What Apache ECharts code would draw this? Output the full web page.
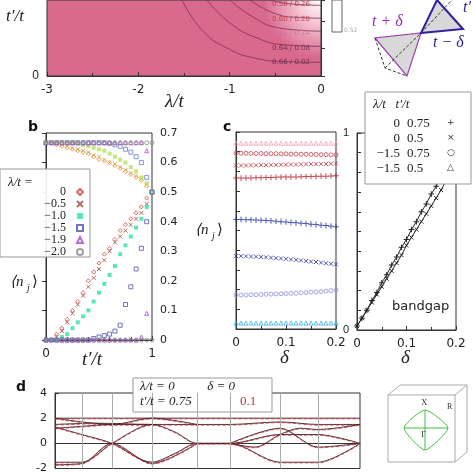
<!DOCTYPE html>
<html><head><meta charset="utf-8">
<script src="https://cdn.jsdelivr.net/npm/echarts@6/dist/echarts.min.js"></script>
<style>html,body{margin:0;padding:0;background:#fff}#c{width:474px;height:474px}</style>
</head><body><div id="c"></div>
<script>
// panel a contours [lambda, t'] (t' scaled 0..1 over plot height)
var contourLabels = ['0.58 / 0.26', '0.60 / 0.20', '0.62 / 0.14', '0.64 / 0.08', '0.66 / 0.02'];
var contours = [
  [[-0.56, 1], [-0.35, 0.95], [0, 0.93]],
  [[-0.78, 1], [-0.5, 0.82], [-0.25, 0.77], [0, 0.76]],
  [[-1.0, 1], [-0.75, 0.78], [-0.45, 0.63], [0, 0.59]],
  [[-1.25, 1], [-1.0, 0.7], [-0.7, 0.5], [-0.4, 0.41], [0, 0.39]],
  [[-1.52, 1], [-1.3, 0.6], [-1.0, 0.35], [-0.7, 0.23], [-0.4, 0.19], [0, 0.18]]
];

// panel b: t'/t = 0, 0.05, ..., 1
var tp = [0,0.05,0.1,0.15,0.2,0.25,0.3,0.35,0.4,0.45,0.5,0.55,0.6,0.65,0.7,0.75,0.8,0.85,0.9,0.95,1];
var lambdas = ['0', '−0.5', '−1.0', '−1.5', '−1.9', '−2.0'];
var nLow = [
  [0,0,0.02,0.04,0.07,0.1,0.13,0.16,0.2,0.23,0.26,0.29,0.31,0.34,0.37,0.39,0.41,0.43,0.45,0.48,0.5],
  [0,0,0.01,0.03,0.06,0.09,0.12,0.15,0.18,0.21,0.24,0.27,0.3,0.33,0.35,0.37,0.39,0.41,0.43,0.46,0.5],
  [0,0,0,0.01,0.02,0.04,0.06,0.08,0.1,0.13,0.16,0.19,0.22,0.25,0.29,0.32,0.35,0.38,0.41,0.45,0.5],
  [0,0,0,0,0,0,0,0,0,0.005,0.01,0.015,0.02,0.03,0.05,0.12,0.18,0.24,0.31,0.4,0.5],
  [0,0,0,0,0,0,0,0,0,0,0,0,0,0,0,0,0,0,0.01,0.09],
  [0,0,0,0,0,0,0,0,0,0,0,0,0,0,0,0,0,0,0,0,0]
];
var nUp = [
  [0.667,0.667,0.66,0.655,0.65,0.645,0.64,0.635,0.63,0.62,0.61,0.605,0.6,0.59,0.58,0.57,0.56,0.55,0.54,0.52,0.5],
  [0.667,0.667,0.665,0.66,0.655,0.65,0.645,0.64,0.635,0.625,0.62,0.61,0.6,0.595,0.585,0.575,0.565,0.555,0.545,0.525,0.5],
  [0.667,0.667,0.667,0.667,0.667,0.667,0.665,0.66,0.655,0.65,0.645,0.64,0.63,0.62,0.61,0.6,0.585,0.57,0.55,0.53,0.5],
  [0.667,0.667,0.667,0.667,0.667,0.667,0.667,0.667,0.667,0.667,0.667,0.667,0.665,0.66,0.655,0.645,0.635,0.62,0.6,0.55,0.5],
  [0.667,0.667,0.667,0.667,0.667,0.667,0.667,0.667,0.667,0.667,0.667,0.667,0.667,0.667,0.667,0.667,0.667,0.667,0.667,0.64],
  [0.667,0.667,0.667,0.667,0.667,0.667,0.667,0.667,0.667,0.667,0.667,0.667,0.667,0.667,0.667,0.667,0.667,0.667,0.667,0.667,0.667]
];
var cross = 'path://M0,0L10,10M10,0L0,10';
var bSymbols = ['diamond', cross, 'rect', 'rect', 'triangle', 'circle'];
var bLowColors = ['#d0453a', '#a04838', '#2fe0a8', '#5050b8', '#a848c8', '#8a8a8a'];
var bUpColors = ['#e8872a', '#e09a40', '#b8e060', '#6a80d0', '#a848c8', '#8a8a8a'];

// panel c: delta = 0 .. 0.2
var delta = [0,0.01,0.02,0.03,0.04,0.05,0.06,0.07,0.08,0.09,0.1,0.11,0.12,0.13,0.14,0.15,0.16,0.17,0.18,0.19,0.2];
var cLeft = [
  {sym: 'triangle', color: '#f0a0b0', v: [0.943,0.943,0.943,0.943,0.943,0.943,0.943,0.943,0.943,0.943,0.943,0.943,0.943,0.943,0.943,0.943,0.943,0.943,0.943,0.943,0.943]},
  {sym: 'circle', color: '#d04050', v: [0.892,0.892,0.892,0.891,0.891,0.891,0.890,0.890,0.890,0.889,0.889,0.888,0.888,0.887,0.887,0.886,0.886,0.885,0.885,0.884,0.884]},
  {sym: 'x', color: '#c03040', v: [0.83,0.83,0.83,0.831,0.831,0.832,0.832,0.833,0.833,0.834,0.834,0.835,0.835,0.836,0.836,0.837,0.837,0.838,0.838,0.839,0.84]},
  {sym: 'plus', color: '#b02030', v: [0.766,0.766,0.767,0.767,0.768,0.768,0.769,0.769,0.770,0.771,0.771,0.772,0.772,0.773,0.774,0.774,0.775,0.776,0.776,0.777,0.778]},
  {sym: 'plus', color: '#2030a0', v: [0.556,0.556,0.555,0.554,0.553,0.552,0.551,0.549,0.547,0.545,0.543,0.541,0.539,0.537,0.535,0.532,0.530,0.527,0.525,0.522,0.519]},
  {sym: 'x', color: '#3030b0', v: [0.37,0.37,0.369,0.368,0.367,0.366,0.364,0.362,0.36,0.358,0.356,0.353,0.351,0.348,0.345,0.342,0.34,0.337,0.334,0.331,0.328]},
  {sym: 'circle', color: '#9090e0', v: [0.173,0.173,0.173,0.174,0.174,0.175,0.176,0.177,0.178,0.179,0.180,0.181,0.182,0.184,0.185,0.187,0.188,0.190,0.192,0.195,0.197]},
  {sym: 'triangle', color: '#30b0e0', v: [0.03,0.03,0.03,0.03,0.03,0.03,0.03,0.03,0.03,0.03,0.03,0.03,0.03,0.03,0.03,0.03,0.03,0.03,0.03,0.03,0.03]}
];
var gapA = [0.02,0.06,0.1,0.15,0.19,0.24,0.28,0.33,0.37,0.42,0.46,0.51,0.55,0.6,0.64,0.69,0.73,0.78,0.83,0.87,0.92];
var gapB = [0.02,0.06,0.1,0.14,0.18,0.22,0.26,0.3,0.34,0.38,0.43,0.47,0.51,0.55,0.59,0.63,0.67,0.71,0.76,0.8,0.85];
var cLegend = [['0', '0.75', '+'], ['0', '0.5', '×'], ['−1.5', '0.75', '○'], ['−1.5', '0.5', '△']];

// panel d: k-path node positions and bands
var kNodes = [0, 27, 57, 97, 142, 175, 225, 263, 305];
var bands = [
  [[0,2],[97,2],[142,2],[305,2]],
  [[0,1.5],[40,1.6],[97,1.5],[142,1.5],[175,1.5],[225,1.7],[263,1.5],[305,1.5]],
  [[0,2],[27,1.7],[57,1.5],[97,2],[142,1.5]],
  [[0,1.3],[27,0.7],[57,0],[97,-1.5],[120,-0.8],[142,0],[175,0],[225,-1.5],[263,-1.5],[305,0]],
  [[0,-1.5],[27,-1.5],[57,0],[97,1.5],[120,0.9],[142,0],[175,0],[225,0.7],[263,0.7],[305,0]],
  [[0,1.2],[27,1.35],[57,1.5],[97,1.5]],
  [[175,0],[200,-0.3],[225,0.7],[245,1.2],[263,1.1],[305,1.5]],
  [[175,0],[225,1.2],[263,-0.3],[305,0]],
  [[0,-1.7],[27,-1.6],[57,0],[97,-1.6],[142,0]]
];

var series = [];
contours.forEach(function (c) {
  series.push({type: 'line', xAxisIndex: 0, yAxisIndex: 0, data: c, smooth: true, symbol: 'none',
    lineStyle: {color: '#7a3050', width: 0.8}});
});
lambdas.forEach(function (l, i) {
  var filled = i === 2;
  series.push({type: 'scatter', name: l, xAxisIndex: 1, yAxisIndex: 1, symbol: bSymbols[i], symbolSize: 4,
    itemStyle: filled ? {color: bLowColors[i]} : {color: 'transparent', borderColor: bLowColors[i], borderWidth: 1},
    data: nLow[i].map(function (v, j) { return [tp[j], v]; })});
  series.push({type: 'scatter', xAxisIndex: 1, yAxisIndex: 1, symbol: bSymbols[i], symbolSize: 4,
    itemStyle: filled ? {color: bUpColors[i]} : {color: 'transparent', borderColor: bUpColors[i], borderWidth: 1},
    data: nUp[i].map(function (v, j) { return [tp[j], v]; })});
});
cLeft.forEach(function (s) {
  series.push({type: 'scatter', xAxisIndex: 2, yAxisIndex: 2, symbol: s.sym === 'plus' || s.sym === 'x' ? cross : s.sym,
    symbolRotate: s.sym === 'plus' ? 45 : 0, symbolSize: 4,
    itemStyle: {color: 'transparent', borderColor: s.color, borderWidth: 1},
    data: s.v.map(function (v, j) { return [delta[j], v]; })});
});
[gapA, gapB].forEach(function (g, i) {
  series.push({type: 'line', name: 'gap' + i, xAxisIndex: 3, yAxisIndex: 3, symbol: cross, symbolRotate: i ? 0 : 45, symbolSize: 4,
    lineStyle: {color: '#222', width: 1}, itemStyle: {color: 'transparent', borderColor: '#222', borderWidth: 1},
    data: g.map(function (v, j) { return [delta[j], v]; })});
});
bands.forEach(function (b) {
  series.push({type: 'line', xAxisIndex: 4, yAxisIndex: 4, data: b, smooth: 0.3, symbol: 'none',
    lineStyle: {color: '#222', width: 0.9}});
  series.push({type: 'line', xAxisIndex: 4, yAxisIndex: 4, data: b.map(function (p) { return [p[0], p[1] - 0.05]; }), smooth: 0.3, symbol: 'none',
    lineStyle: {color: '#d03040', width: 0.9, type: 'dashed'}});
});

var font = 'Liberation Serif';
var tickIn = {show: true, inside: true, length: 4, lineStyle: {color: '#333'}};
var axLine = {lineStyle: {color: '#333'}};
var lab = {color: '#222', fontSize: 12, fontFamily: 'DejaVu Sans'};

var chart = echarts.init(document.getElementById('c'));
chart.setOption({
  animation: false,
  grid: [
    {left: 47, top: 0, width: 274, height: 76, show: true, borderColor: '#333',
      backgroundColor: new echarts.graphic.RadialGradient(1, 0, 0.75, [
        {offset: 0, color: '#ffffff'}, {offset: 0.4, color: '#f6c8d6'}, {offset: 1, color: '#d96a8e'}])},
    {left: 46, top: 133, width: 106, height: 207, show: true, borderColor: '#333'},
    {left: 236, top: 132, width: 100, height: 197, show: true, borderColor: '#333'},
    {left: 357, top: 133, width: 99, height: 197, show: true, borderColor: '#333'},
    {left: 55, top: 393, width: 305, height: 77, show: true, borderColor: '#333'}
  ],
  xAxis: [
    {gridIndex: 0, type: 'value', min: -3, max: 0, interval: 1, axisLine: axLine, axisTick: tickIn, splitLine: {show: false},
      minorTick: {show: true, splitNumber: 2, length: 3}, axisLabel: lab},
    {gridIndex: 1, type: 'value', min: 0, max: 1, interval: 1, axisLine: axLine, axisTick: tickIn, splitLine: {show: false},
      minorTick: {show: true, splitNumber: 5, length: 3}, axisLabel: lab},
    {gridIndex: 2, type: 'value', min: 0, max: 0.2, interval: 0.1, axisLine: axLine, axisTick: tickIn, splitLine: {show: false},
      minorTick: {show: true, splitNumber: 2, length: 3}, axisLabel: lab},
    {gridIndex: 3, type: 'value', min: 0, max: 0.2, interval: 0.1, axisLine: axLine, axisTick: tickIn, splitLine: {show: false},
      minorTick: {show: true, splitNumber: 2, length: 3}, axisLabel: lab},
    {gridIndex: 4, type: 'value', min: 0, max: 305, axisLine: axLine, axisTick: {show: false}, axisLabel: {show: false},
      splitLine: {show: false}}
  ],
  yAxis: [
    {gridIndex: 0, type: 'value', min: 0, max: 1, interval: 0.36, axisLine: axLine, axisTick: tickIn, splitLine: {show: false},
      axisLabel: {color: '#222', fontSize: 12, formatter: function (v) { return v === 0 ? '0' : ''; }}},
    {gridIndex: 1, type: 'value', position: 'right', min: 0, max: 0.7, interval: 0.1, axisLine: axLine, axisTick: tickIn, splitLine: {show: false},
      axisLabel: {color: '#222', fontSize: 11, fontFamily: 'DejaVu Sans', formatter: function (v) { return v === 0 ? '0' : v.toFixed(1); }}},
    {gridIndex: 2, type: 'value', min: 0, max: 1, interval: 0.1, axisLine: axLine, axisTick: tickIn, splitLine: {show: false}, axisLabel: {show: false}},
    {gridIndex: 3, type: 'value', min: 0, max: 1, interval: 0.1, axisLine: axLine, axisTick: tickIn, splitLine: {show: false},
      axisLabel: {color: '#222', fontSize: 11, formatter: function (v) { return v === 0 || v === 1 ? String(v) : ''; }}},
    {gridIndex: 4, type: 'value', min: -2, max: 4, interval: 2, axisLine: axLine, axisTick: tickIn, splitLine: {show: false},
      axisLabel: {color: '#222', fontSize: 11, fontFamily: 'DejaVu Sans'}}
  ],
  legend: {z: 20, data: lambdas, orient: 'vertical', left: 22, top: 186, padding: 0, align: 'right', itemGap: 0, itemWidth: 6, itemHeight: 6,
    textStyle: {fontFamily: font, fontSize: 12, lineHeight: 11, height: 11, color: '#222', align: 'right', width: 44, padding: [0, 6, 0, 0]}},
  series: series.concat([{type: 'line', xAxisIndex: 4, yAxisIndex: 4, symbol: 'none', data: [],
    markLine: {silent: true, symbol: 'none', label: {show: false}, lineStyle: {color: '#aaa', type: 'solid', width: 1},
      data: kNodes.slice(1, -1).map(function (k) { return {xAxis: k}; })}}]),
  graphic: [
    // panel a labels
    {type: 'text', left: 6, top: 8, style: {text: "t′/t", font: 'italic 17px ' + font, fill: '#222'}},
    {type: 'text', left: 165, top: 92, style: {text: 'λ/t', font: 'italic 19px ' + font, fill: '#222'}}
  ].concat(contourLabels.map(function (t, i) {
    return {type: 'text', left: 272, top: 1 + i * 14.5, z: 10, style: {text: t, font: '7px DejaVu Sans', fill: ['#b04050', '#c04050', '#d070a0', '#703050', '#703050'][i]}};
  })).concat([
    // colour bar
    {type: 'rect', shape: {x: 332, y: 0, width: 10, height: 32}, style: {fill: '#fff', stroke: '#666'}},
    {type: 'text', left: 344, top: 27, style: {text: '0.52', font: '6px DejaVu Sans', fill: '#aaa'}},
    // lattice drawing
    {type: 'polygon', shape: {points: [[375, 38], [407, 76], [421, 33]]}, style: {fill: '#d8d8d8', stroke: '#a040b0', lineWidth: 1.2}},
    {type: 'polyline', shape: {points: [[375, 38], [385, 68], [407, 76]]}, style: {stroke: '#333', lineDash: [3, 2], lineWidth: 1}},
    {type: 'line', shape: {x1: 385, y1: 68, x2: 421, y2: 33}, style: {stroke: '#333', lineDash: [3, 2]}},
    {type: 'polygon', shape: {points: [[421, 33], [463, 29], [437, 0]]}, style: {fill: '#d8d8d8', stroke: '#3020a0', lineWidth: 2}},
    {type: 'line', shape: {x1: 421, y1: 33, x2: 452, y2: 0}, style: {stroke: '#333', lineDash: [3, 2]}},
    {type: 'text', left: 372, top: 14, style: {text: 't + δ', font: 'italic 16px ' + font, fill: '#9030b0'}},
    {type: 'text', left: 433, top: 35, style: {text: 't − δ', font: 'italic 16px ' + font, fill: '#302090'}},
    {type: 'text', left: 463, top: 0, style: {text: 't′', font: 'italic 16px ' + font, fill: '#302090'}},
    // panel b
    {type: 'text', left: 28, top: 120, style: {text: 'b', font: 'bold 14px DejaVu Sans', fill: '#111'}},
    {type: 'rect', z: 5, shape: {x: 0, y: 169, width: 90, height: 88}, style: {fill: 'rgba(255,255,255,0.92)', stroke: '#999'}},
    {type: 'text', z: 6, left: 8, top: 176, style: {text: 'λ/t =', font: 'italic 13px ' + font, fill: '#222'}},
    {type: 'text', left: 10, top: 275, style: {text: '⟨n', font: 'italic 15px ' + font, fill: '#222'}},
    {type: 'text', left: 27, top: 283, style: {text: 'j', font: 'italic 10px ' + font, fill: '#222'}},
    {type: 'text', left: 32, top: 275, style: {text: '⟩', font: '15px ' + font, fill: '#222'}},
    {type: 'text', left: 82, top: 350, style: {text: 't′/t', font: 'italic 19px ' + font, fill: '#222'}},
    // panel c
    {type: 'text', left: 223, top: 120, style: {text: 'c', font: 'bold 14px DejaVu Sans', fill: '#111'}},
    {type: 'text', left: 195, top: 223, style: {text: '⟨n', font: 'italic 15px ' + font, fill: '#222'}},
    {type: 'text', left: 212, top: 231, style: {text: 'j', font: 'italic 10px ' + font, fill: '#222'}},
    {type: 'text', left: 217, top: 223, style: {text: '⟩', font: '15px ' + font, fill: '#222'}},
    {type: 'text', left: 280, top: 348, style: {text: 'δ', font: 'italic 19px ' + font, fill: '#222'}},
    {type: 'text', left: 401, top: 348, style: {text: 'δ', font: 'italic 19px ' + font, fill: '#222'}},
    {type: 'text', left: 392, top: 300, style: {text: 'bandgap', font: '13px DejaVu Sans', fill: '#222'}},
    {type: 'rect', z: 5, shape: {x: 365, y: 92, width: 106, height: 92}, style: {fill: '#fff', stroke: '#999'}},
    {type: 'text', z: 6, left: 373, top: 98, style: {text: 'λ/t   t′/t', font: 'italic 13px ' + font, fill: '#222'}}
  ]).concat(cLegend.map(function (r, i) {
    return {type: 'group', z: 6, children: [
      {type: 'text', z: 6, style: {x: 400, y: 117 + i * 15, text: r[0], align: 'right', font: '13px ' + font, fill: '#222'}},
      {type: 'text', z: 6, style: {x: 407, y: 117 + i * 15, text: r[1], font: '13px ' + font, fill: '#222'}},
      {type: 'text', z: 6, style: {x: 447, y: 118 + i * 15, text: r[2], font: '9px DejaVu Sans', fill: '#333'}}
    ]};
  })).concat([
    // panel d
    {type: 'text', left: 16, top: 380, style: {text: 'd', font: 'bold 14px DejaVu Sans', fill: '#111'}},
    {type: 'rect', z: 5, shape: {x: 133, y: 378, width: 139, height: 34}, style: {fill: '#fff', stroke: '#999'}},
    {type: 'text', z: 6, left: 140, top: 380, style: {text: 'λ/t = 0          δ = 0', font: 'italic 13px ' + font, fill: '#222'}},
    {type: 'text', z: 6, left: 140, top: 395, style: {text: 't′/t = 0.75', font: 'italic 13px ' + font, fill: '#222'}},
    {type: 'text', z: 6, left: 240, top: 395, style: {text: '0.1', font: '13px ' + font, fill: '#c03040'}},
    // Brillouin zone sketch
    {type: 'polyline', shape: {points: [[388, 395], [455, 395], [455, 462], [388, 462], [388, 395]]}, style: {stroke: '#aaa', fill: null}},
    {type: 'polyline', shape: {points: [[388, 395], [400, 385], [467, 385], [467, 452], [455, 462]]}, style: {stroke: '#aaa', fill: null}},
    {type: 'line', shape: {x1: 455, y1: 395, x2: 467, y2: 385}, style: {stroke: '#aaa'}},
    {type: 'polygon', shape: {points: [[425, 410], [448, 428], [425, 450], [404, 428]], smooth: 0.2}, style: {stroke: '#40c040', fill: null}},
    {type: 'line', shape: {x1: 425, y1: 410, x2: 425, y2: 450}, style: {stroke: '#40c040'}},
    {type: 'line', shape: {x1: 404, y1: 428, x2: 448, y2: 428}, style: {stroke: '#40c040'}},
    {type: 'text', left: 421, top: 398, style: {text: 'X', font: '9px ' + font, fill: '#333'}},
    {type: 'text', left: 447, top: 403, style: {text: 'R', font: '8px ' + font, fill: '#333'}},
    {type: 'text', left: 421, top: 430, style: {text: 'Γ', font: '9px ' + font, fill: '#333'}}
  ])
});
</script></body></html>
